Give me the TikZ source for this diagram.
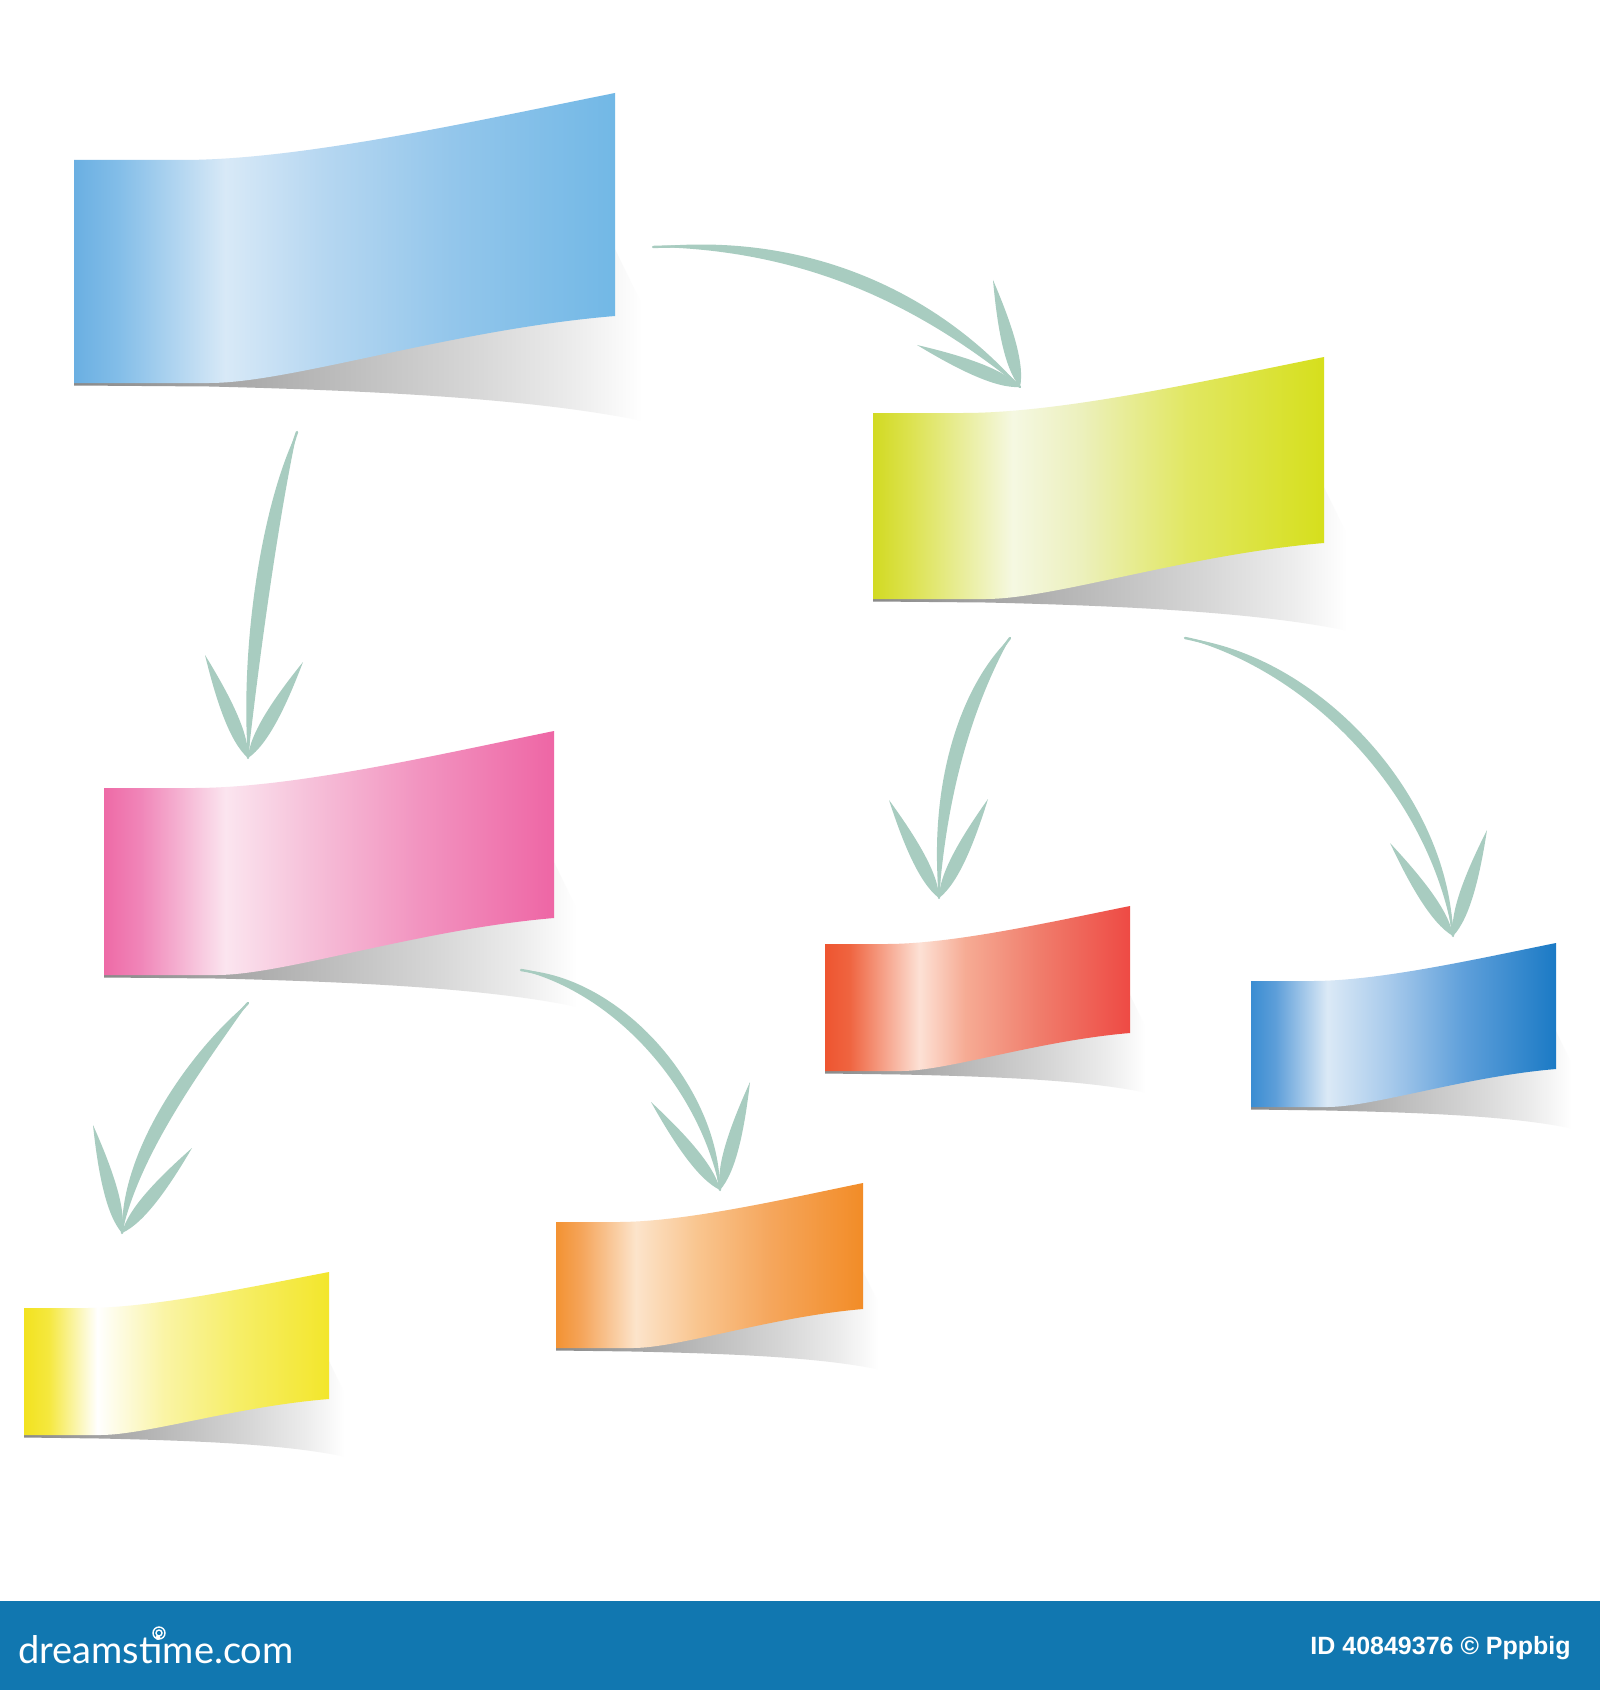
\documentclass[tikz,border=0pt]{standalone}
\usepackage{fontspec}
\usetikzlibrary{calc}
\newfontfamily\barfont{Liberation Sans}
\newfontfamily\logofont{Lato}

\definecolor{arrowc}{RGB}{168,204,192}
\definecolor{barblue}{RGB}{17,119,176}
% shadow
\definecolor{shA}{HTML}{8A8A8A}
\definecolor{shB}{HTML}{A8A8A8}
\definecolor{shC}{HTML}{C0C0C0}
\definecolor{shD}{HTML}{D6D6D6}
\definecolor{shE}{HTML}{ECECEC}
% blue top
\definecolor{bA0}{HTML}{6AAFE2}\definecolor{bA1}{HTML}{82BDE8}\definecolor{bAh}{HTML}{D8E9F7}
\definecolor{bA4}{HTML}{B6D7F1}\definecolor{bA7}{HTML}{93C6EB}\definecolor{bA9}{HTML}{72B8E6}
% lime
\definecolor{lA0}{HTML}{D2DA22}\definecolor{lA1}{HTML}{DCE24E}\definecolor{lAh}{HTML}{F5F8E2}
\definecolor{lA4}{HTML}{ECF0BD}\definecolor{lA7}{HTML}{E1E761}\definecolor{lA9}{HTML}{D6DF1C}
% pink
\definecolor{pA0}{HTML}{EE6AA6}\definecolor{pA1}{HTML}{F085B8}\definecolor{pAh}{HTML}{FBE5EF}
\definecolor{pA4}{HTML}{F6C0D9}\definecolor{pA7}{HTML}{F294C0}\definecolor{pA9}{HTML}{EE66A5}
% yellow
\definecolor{yA0}{HTML}{F2E21F}\definecolor{yA1}{HTML}{F5E83E}\definecolor{yAh}{HTML}{FFFFFF}
\definecolor{yA4}{HTML}{FAF4A5}\definecolor{yA7}{HTML}{F6EE68}\definecolor{yA9}{HTML}{F3E62B}
% orange
\definecolor{oA0}{HTML}{F39232}\definecolor{oA1}{HTML}{F5A459}\definecolor{oAh}{HTML}{FCE4CB}
\definecolor{oA4}{HTML}{F9C58F}\definecolor{oA7}{HTML}{F5A65C}\definecolor{oA9}{HTML}{F28C27}
% red
\definecolor{rA0}{HTML}{EE5530}\definecolor{rA1}{HTML}{EF6440}\definecolor{rAh}{HTML}{FDE1D5}
\definecolor{rA4}{HTML}{F6AB94}\definecolor{rA7}{HTML}{F07D6C}\definecolor{rA9}{HTML}{EE4A44}
% blue lower
\definecolor{cA0}{HTML}{3A8DD2}\definecolor{cA1}{HTML}{5D9ED9}\definecolor{cAh}{HTML}{DBE9F6}
\definecolor{cA4}{HTML}{A6C9EB}\definecolor{cA7}{HTML}{5E9FDA}\definecolor{cA9}{HTML}{1B7AC5}

\newcommand\mkshade[8]{%
  \pgfdeclarehorizontalshading{#1}{100bp}{color(0bp)=(#3); color(25bp)=(#3);
    color(29bp)=(#4); color(#2bp)=(#5); color(48bp)=(#6); color(60bp)=(#7);
    color(75bp)=(#8); color(100bp)=(#8)}}
\mkshade{shBlueA}{39}{bA0}{bA1}{bAh}{bA4}{bA7}{bA9}
\mkshade{shLime}{40.5}{lA0}{lA1}{lAh}{lA4}{lA7}{lA9}
\mkshade{shPink}{38.5}{pA0}{pA1}{pAh}{pA4}{pA7}{pA9}
\mkshade{shYellow}{37}{yA0}{yA1}{yAh}{yA4}{yA7}{yA9}
\mkshade{shOrange}{38}{oA0}{oA1}{oAh}{oA4}{oA7}{oA9}
\mkshade{shRed}{40.5}{rA0}{rA1}{rAh}{rA4}{rA7}{rA9}
\mkshade{shBlueB}{37.5}{cA0}{cA1}{cAh}{cA4}{cA7}{cA9}
\pgfdeclarehorizontalshading{shadowsh}{100bp}{color(0bp)=(shA); color(25bp)=(shA);
  color(39bp)=(shB); color(50bp)=(shC); color(60bp)=(shD); color(69bp)=(shE);
  color(75bp)=(white); color(100bp)=(white)}

% #1 name, #2 xL, #3 xR, #4 yTL, #5 yTR, #6 height, #7 shading
\newcommand\stickynote[7]{%
  \pgfmathsetmacro\nW{#3-#2}%
  \pgfmathsetmacro\nDy{#5-#4}%
  \pgfmathsetmacro\nBL{#4+#6}%
  \pgfmathsetmacro\nBR{#5+#6}%
  \pgfmathsetmacro\nTa{#2+0.20*\nW}%
  \pgfmathsetmacro\nTb{#2+0.42*\nW}%
  \pgfmathsetmacro\nTc{#2+0.74*\nW}%
  \pgfmathsetmacro\nTcy{#4+0.58*\nDy}%
  \pgfmathsetmacro\nBa{#2+0.25*\nW}%
  \pgfmathsetmacro\nBb{#2+0.40*\nW}%
  \pgfmathsetmacro\nBc{#2+0.70*\nW}%
  \pgfmathsetmacro\nBcy{\nBL+0.80*\nDy}%
  \pgfmathsetmacro\nSa{#2+0.55*\nW}%
  \pgfmathsetmacro\nSb{#2+0.85*\nW}%
  \pgfmathsetmacro\nSr{#2+1.05*\nW}%
  \pgfmathsetmacro\nSya{\nBL+3+0.02*#6}%
  \pgfmathsetmacro\nSyb{\nBL+0.07*#6}%
  \pgfmathsetmacro\nSyc{\nBL+0.17*#6}%
  \pgfmathsetmacro\nSyd{\nBR-0.05*#6}%
  \pgfmathsetmacro\nMid{\nBR-0.3*#6}%
  \shade[shading=shadowsh] (#2,\nBL-4) -- (#2,\nBL+2.5) -- (\nBa,\nBL+3.5)
     .. controls (\nSa,\nSya) and (\nSb,\nSyb) .. (\nSr,\nSyc)
     -- (\nSr,\nSyd) -- (#3,\nMid) -- (\nBa,\nBL-4) -- cycle;
  \shade[shading=#7] (#2,#4) -- (\nTa,#4) .. controls (\nTb,#4) and (\nTc,\nTcy) .. (#3,#5)
     -- (#3,\nBR) .. controls (\nBc,\nBcy) and (\nBb,\nBL) .. (\nBa,\nBL) -- (#2,\nBL) -- cycle;
  \coordinate (#1) at ({(#2+#3)/2},{(#4+#5+#6)/2});
}

\newcommand\arrowwing[2]{%
  \fill[arrowc] (#1) .. controls ($(#1)!0.2!(#2)!5.5pt!90:(#2)$) and ($(#1)!0.6!(#2)!3.5pt!90:(#2)$) .. (#2)
     .. controls ($(#1)!0.6!(#2)!3.5pt!-90:(#2)$) and ($(#1)!0.2!(#2)!5.5pt!-90:(#2)$) .. (#1) -- cycle;
}
% arrow with coordinates #1s (tail), #1c, #1d (controls), #1e (tip), #1l, #1r (wing ends)
\newcommand\sketcharrow[1]{%
  \fill[arrowc] (#1s) .. controls ($(#1c)!5pt!-90:(#1s)$) and ($(#1d)!5pt!90:(#1e)$) .. (#1e)
     .. controls ($(#1d)!5pt!-90:(#1e)$) and ($(#1c)!5pt!90:(#1s)$) .. (#1s) -- cycle;
  \draw[arrowc, line width=1.2pt, line cap=round] (#1s) .. controls (#1c) and (#1d) .. (#1e);
  \arrowwing{#1e}{#1l}%
  \arrowwing{#1e}{#1r}%
}

\begin{document}
\begin{tikzpicture}[x=0.5pt,y=-0.5pt]
\useasboundingbox (0,0) rectangle (1600,1690);
\fill[white] (0,0) rectangle (1600,1690);

% sticky notes
\stickynote{nBlue}{74}{615}{160}{93}{223}{shBlueA}
\stickynote{nLime}{873}{1324}{413}{357}{186}{shLime}
\stickynote{nPink}{104}{554}{788}{731}{187}{shPink}
\stickynote{nYellow}{24}{329}{1308}{1272}{127}{shYellow}
\stickynote{nOrange}{556}{863}{1222}{1183}{126}{shOrange}
\stickynote{nRed}{825}{1130}{944}{906}{127}{shRed}
\stickynote{nBlueB}{1251}{1556}{981}{943}{126}{shBlueB}

% arrow geometry
\coordinate (a1s) at (653,247);  \coordinate (a1c) at (820,240);  \coordinate (a1d) at (940,310);
\coordinate (a1e) at (1020,387); \coordinate (a1l) at (917,345);  \coordinate (a1r) at (993,280);
\coordinate (a2s) at (297,432);  \coordinate (a2c) at (270,510);  \coordinate (a2d) at (250,650);
\coordinate (a2e) at (248,758);  \coordinate (a2l) at (205,655);  \coordinate (a2r) at (303,662);
\coordinate (a3s) at (248,1003); \coordinate (a3c) at (200,1055); \coordinate (a3d) at (130,1150);
\coordinate (a3e) at (122,1233); \coordinate (a3l) at (93,1125);  \coordinate (a3r) at (192,1148);
\coordinate (a4s) at (521,970);  \coordinate (a4c) at (620,985);  \coordinate (a4d) at (710,1090);
\coordinate (a4e) at (720,1190); \coordinate (a4l) at (651,1102); \coordinate (a4r) at (750,1082);
\coordinate (a5s) at (1010,638); \coordinate (a5c) at (970,690);  \coordinate (a5d) at (938,780);
\coordinate (a5e) at (939,898);  \coordinate (a5l) at (889,800);  \coordinate (a5r) at (988,799);
\coordinate (a6s) at (1185,638); \coordinate (a6c) at (1320,665); \coordinate (a6d) at (1440,800);
\coordinate (a6e) at (1453,936); \coordinate (a6l) at (1390,843); \coordinate (a6r) at (1487,830);

\sketcharrow{a1}
\sketcharrow{a2}
\sketcharrow{a3}
\sketcharrow{a4}
\sketcharrow{a5}
\sketcharrow{a6}

% bottom bar
\fill[barblue] (0,1601) rectangle (1600,1690);
\node[anchor=base west, inner sep=0pt, text=white, font=\logofont\fontsize{19}{19}\selectfont] (logo) at (18,1663) {dreamstime.com};
\draw[white, line width=0.7pt] (159,1633) circle (6) (159,1633) circle (3);
\node[anchor=base east, inner sep=0pt, text=white, font=\barfont\bfseries\fontsize{12.5}{13}\selectfont] (imgid) at (1571,1654) {ID 40849376 © Pppbig};
\end{tikzpicture}
\end{document}
